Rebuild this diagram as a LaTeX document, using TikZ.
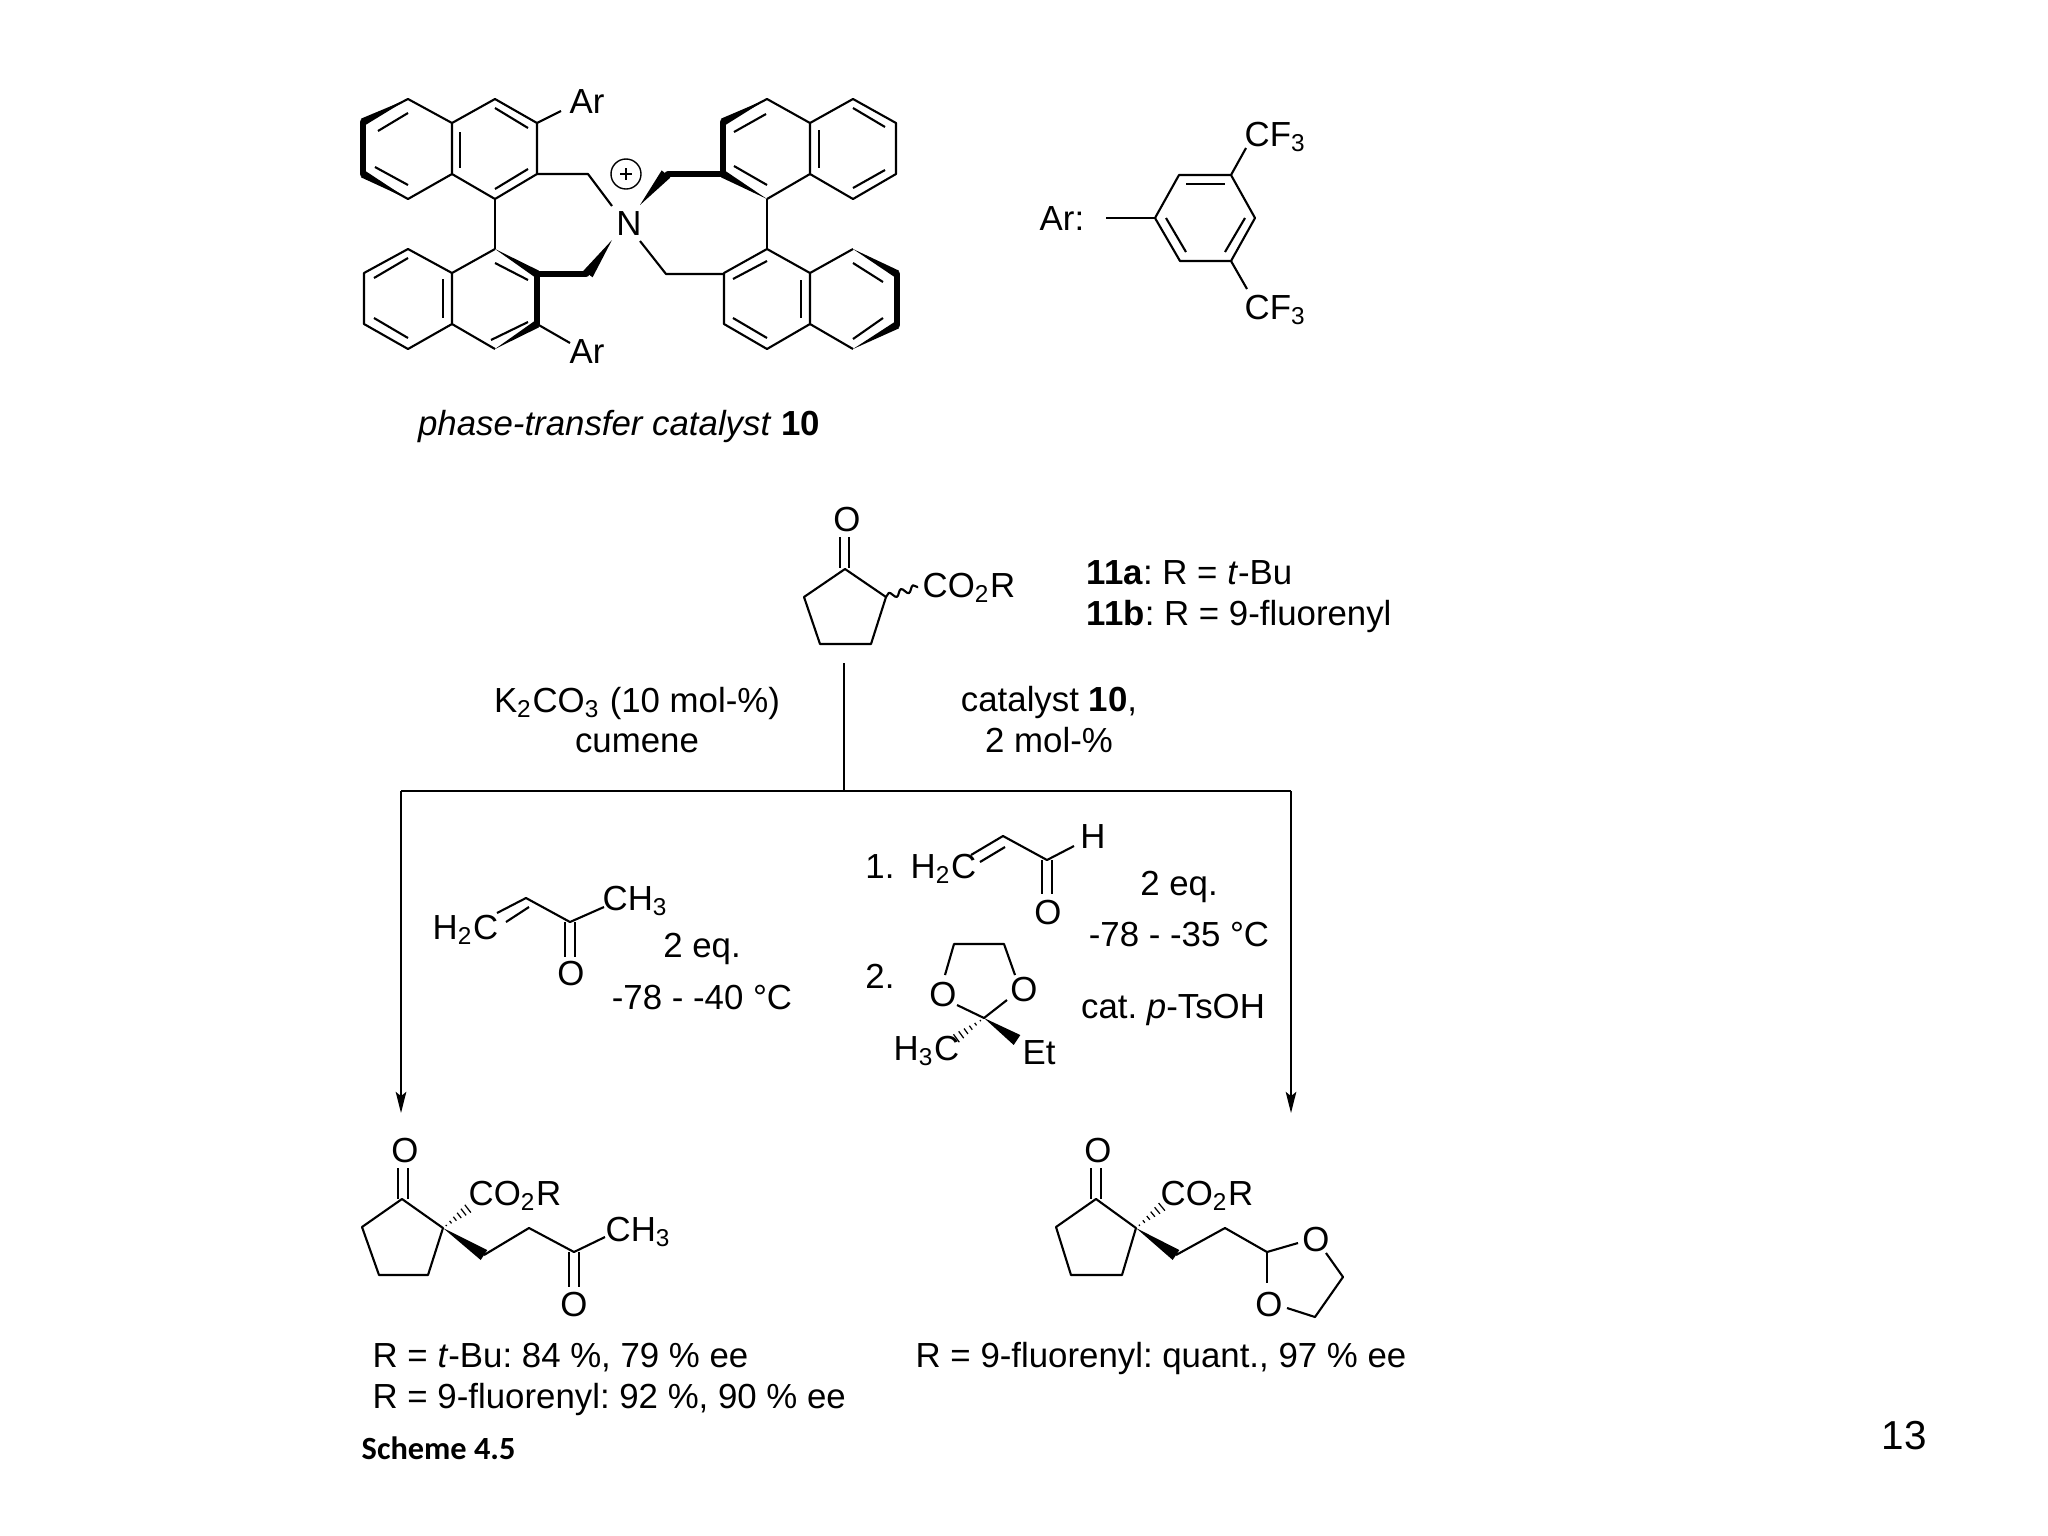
\documentclass[tikz,border=0pt]{standalone}
\usepackage{fontspec}
\setmainfont{Liberation Sans}
\newfontfamily\captionfont{Carlito}
\usetikzlibrary{arrows.meta,calc,decorations.pathmorphing}
\frenchspacing

% filled wedge, narrow end first
\newcommand{\boldwedge}[3][1.1pt]{\fill ($(#3)!#1!90:(#2)$) -- (#2) -- ($(#3)!#1!-90:(#2)$) -- cycle;}
% hashed wedge, narrow end first
\newcommand{\hashwedge}[2]{%
  \foreach \t/\w in {0.12/0.2,0.28/0.45,0.44/0.7,0.60/0.95,0.76/1.2,0.92/1.4}
    \draw[hashline] ($(#1)!\t!(#2)!\w pt!90:(#2)$) -- ($(#1)!\t!(#2)!\w pt!-90:(#2)$);}

\begin{document}
\begin{tikzpicture}[x=0.01cm, y=-0.01cm,
    every node/.style={inner sep=0pt, font=\fontsize{9.9}{12}\selectfont},
    bond/.style={line width=0.6pt, line join=round},
    boldbond/.style={line width=1.9pt, line cap=round},
    hashline/.style={line width=0.35pt},
    rxn/.style={line width=0.6pt},
    rxnarrow/.style={rxn, -{Stealth[length=6pt,width=3pt,inset=1.2pt]}},
    atom/.style={anchor=center},
    group/.style={anchor=base west},
    label/.style={anchor=base}
]
\useasboundingbox (0,0) rectangle (2048,1536);

%%%%%%%%%%%%%%%%%%%%%%%%
% Catalyst 10
%%%%%%%%%%%%%%%%%%%%%%%%

% --- Top left naphthyl ---
\draw[bond] (363,122) -- (408,99) -- (452,123) -- (452,174) -- (408,199) -- (363,174);
\draw[bond] (452,123) -- (495,99) -- (537,123) -- (537,174) -- (495,199) -- (452,174);
\draw[bond] (378,131) -- (408,113);
\draw[bond] (375,167) -- (408,185);
\draw[bond] (460,132) -- (460,168);
\draw[bond] (495,108) -- (528,128);
\draw[bond] (495,189) -- (528,169);
\boldwedge{408,99}{363,122}
\draw[boldbond] (363,122) -- (363,174);
\boldwedge{408,199}{363,174}

% --- Bottom left naphthyl ---
\draw[bond] (495,249) -- (452,273) -- (408,249) -- (364,273) -- (364,324) -- (408,349) -- (452,324) -- (452,273);
\draw[bond] (452,324) -- (495,349);
\draw[bond] (374,278) -- (408,258);
\draw[bond] (374,318) -- (408,338);
\draw[bond] (443,279) -- (443,318);
\draw[bond] (495,263) -- (528,280);
\draw[bond] (491,340) -- (528,322);
\boldwedge{495,249}{537,274}
\draw[boldbond] (537,274) -- (537,324);
\boldwedge{495,349}{537,324}

% --- Top right naphthyl ---
\draw[bond] (723,122) -- (767,99) -- (810,123) -- (810,174) -- (767,199);
\draw[bond] (810,123) -- (853,99) -- (896,123) -- (896,174) -- (853,199) -- (810,174);
\draw[bond] (734,132) -- (766,114);
\draw[bond] (734,166) -- (767,185);
\draw[bond] (819,130) -- (819,168);
\draw[bond] (853,108) -- (885,127);
\draw[bond] (853,188) -- (885,170);
\boldwedge{767,99}{723,122}
\draw[boldbond] (723,122) -- (723,174);
\boldwedge{767,199}{723,174}

% --- Bottom right naphthyl ---
\draw[bond] (767,249) -- (724,273) -- (724,324) -- (767,349) -- (810,324) -- (810,273) -- (767,249);
\draw[bond] (810,273) -- (853,249);
\draw[bond] (810,324) -- (853,349);
\draw[bond] (733,279) -- (767,261);
\draw[bond] (733,318) -- (767,338);
\draw[bond] (801,280) -- (801,318);
\draw[bond] (853,263) -- (883,282);
\draw[bond] (853,339) -- (883,318);
\boldwedge{853,249}{897,274}
\draw[boldbond] (897,274) -- (897,325);
\boldwedge{853,349}{897,325}

% --- Biaryl bonds ---
\draw[bond] (495,199) -- (495,249);
\draw[bond] (767,199) -- (767,249);

% --- Azepinium ---
\node[label] (nplus) at (629,235) {N};
\node[draw, circle, line width=0.4pt, minimum size=0.3cm] (charge) at (626,174) {};
\draw[line width=0.4pt] (620,174) -- (632,174) (626,168) -- (626,180);
\draw[bond] (537,174) -- (588,174) -- (612,206);
\draw[bond] (640,241) -- (666,274) -- (724,274);
\draw[boldbond] (537,274) -- (586,274);
\draw[boldbond] (668,174) -- (723,174);
\boldwedge[1.6pt]{612,240}{588,274}
\boldwedge[1.6pt]{640,205}{666,174}

% --- Ar labels ---
\node[group] (ar1) at (569,113) {Ar};
\node[group] (ar2) at (569,363) {Ar};
\draw[bond] (537,123) -- (561,111);
\draw[bond] (537,324) -- (570,343);

% --- Caption ---
\node[label] (capt) at (619,435) {\textit{phase-transfer catalyst} \textbf{10}};

%%%%%%%%%%%%%%%%%%%%%%%%
% Ar group
%%%%%%%%%%%%%%%%%%%%%%%%

\node[group] (arlabel) at (1039,230) {Ar:};
\node[group] (cf1) at (1244,146) {CF\textsubscript{3}};
\node[group] (cf2) at (1244,319) {CF\textsubscript{3}};
\draw[bond] (1106,218) -- (1155,218);
\draw[bond] (1155,218) -- (1179,175) -- (1231,175) -- (1255,218) -- (1231,261) -- (1180,261) -- cycle;
\draw[bond] (1186,184) -- (1225,184);
\draw[bond] (1166,218) -- (1186,252);
\draw[bond] (1245,218) -- (1225,252);
\draw[bond] (1231,175) -- (1246,148);
\draw[bond] (1231,261) -- (1247,289);

%%%%%%%%%%%%%%%%%%%%%%%%
% Keto ester 11
%%%%%%%%%%%%%%%%%%%%%%%%

\node[atom] (keto) at (847,520) {O};
\node[group] (ester) at (922,597) {CO\textsubscript{2}R};
\draw[bond] (845,569) -- (886,597) -- (871,644) -- (820,644) -- (804,597) -- cycle;
\draw[bond] (840,537) -- (840,568);
\draw[bond] (849,537) -- (849,568);
\draw[bond, decorate, decoration={snake, amplitude=0.9pt, segment length=3.6pt}] (886,597) -- (918,587);
\node[group] (r11a) at (1086,584) {\textbf{11a}: R = \textit{t}-Bu};
\node[group] (r11b) at (1086,625) {\textbf{11b}: R = 9-fluorenyl};

%%%%%%%%%%%%%%%%%%%%%%%%
% Reaction tree
%%%%%%%%%%%%%%%%%%%%%%%%

\coordinate (start) at (844,663);
\coordinate (split) at (844,792);
\coordinate (cornerl) at (401,791);
\coordinate (cornerr) at (1291,791);
\coordinate (tipl) at (401,1113);
\coordinate (tipr) at (1291,1113);
\draw[rxn] (start) -- (split);
\draw[rxn] (cornerl) -- (cornerr);
\draw[rxnarrow] (cornerl) -- (tipl);
\draw[rxnarrow] (cornerr) -- (tipr);

\node[label] (base1) at (637,712) {K\textsubscript{2}CO\textsubscript{3} (10 mol-\%)};
\node[label] (base2) at (637,752) {cumene};
\node[label] (cat1) at (1049,711) {catalyst \textbf{10},};
\node[label] (cat2) at (1049,752) {2 mol-\%};

%%%%%%%%%%%%%%%%%%%%%%%%
% Methyl vinyl ketone
%%%%%%%%%%%%%%%%%%%%%%%%

\node[group] (mvkch2) at (432,939) {H\textsubscript{2}C};
\node[group] (mvkch3) at (602,910) {CH\textsubscript{3}};
\node[atom] (mvko) at (571,974) {O};
\draw[bond] (497,913) -- (526,898) -- (570,922) -- (604,907);
\draw[bond] (506,922) -- (529,907);
\draw[bond] (565,922) -- (565,957);
\draw[bond] (575,922) -- (575,957);
\node[label] (eq1) at (702,957) {2 eq.};
\node[label] (temp1) at (702,1009) {-78 - -40 °C};

%%%%%%%%%%%%%%%%%%%%%%%%
% Acrolein, dioxolane
%%%%%%%%%%%%%%%%%%%%%%%%

\node[label] (step1) at (880,878) {1.};
\node[group] (acrch2) at (910,878) {H\textsubscript{2}C};
\node[atom] (acrh) at (1093,837) {H};
\node[atom] (acro) at (1048,912) {O};
\draw[bond] (971,855) -- (1003,836) -- (1047,860) -- (1074,846);
\draw[bond] (980,862) -- (1005,847);
\draw[bond] (1042,860) -- (1042,894);
\draw[bond] (1052,860) -- (1052,894);
\node[label] (eq2) at (1179,895) {2 eq.};
\node[label] (temp2) at (1179,946) {-78 - -35 °C};

\node[label] (step2) at (880,988) {2.};
\node[atom] (diox1) at (943,994) {O};
\node[atom] (diox2) at (1024,990) {O};
\node[group] (dioxme) at (893,1060) {H\textsubscript{3}C};
\node[group] (dioxet) at (1022,1064) {Et};
\draw[bond] (945,975) -- (954,944) -- (1004,944) -- (1015,975);
\draw[bond] (957,1005) -- (984,1018) -- (1007,1000);
\boldwedge[1.7pt]{984,1018}{1017,1040}
\hashwedge{984,1018}{954,1040}
\node[label] (tsoh) at (1173,1018) {cat. \textit{p}-TsOH};

%%%%%%%%%%%%%%%%%%%%%%%%
% Product left
%%%%%%%%%%%%%%%%%%%%%%%%

\node[atom] (lketo) at (405,1150) {O};
\node[group] (lester) at (468,1205) {CO\textsubscript{2}R};
\node[group] (lme) at (605,1241) {CH\textsubscript{3}};
\node[atom] (lo) at (574,1304) {O};
\draw[bond] (402,1199) -- (443,1228) -- (428,1275) -- (379,1275) -- (362,1227) -- cycle;
\draw[bond] (398,1168) -- (398,1199);
\draw[bond] (408,1168) -- (408,1199);
\hashwedge{443,1228}{470,1207}
\boldwedge[1.7pt]{443,1228}{484,1255}
\draw[bond] (484,1255) -- (529,1228) -- (574,1252) -- (605,1237);
\draw[bond] (569,1252) -- (569,1287);
\draw[bond] (579,1252) -- (579,1287);
\node[group] (lres1) at (372,1367) {R = \textit{t}-Bu: 84 \%, 79 \% ee};
\node[group] (lres2) at (372,1408) {R = 9-fluorenyl: 92 \%, 90 \% ee};

%%%%%%%%%%%%%%%%%%%%%%%%
% Product right
%%%%%%%%%%%%%%%%%%%%%%%%

\node[atom] (rketo) at (1098,1150) {O};
\node[group] (rester) at (1160,1205) {CO\textsubscript{2}R};
\node[atom] (ro1) at (1316,1239) {O};
\node[atom] (ro2) at (1269,1304) {O};
\draw[bond] (1096,1199) -- (1136,1228) -- (1122,1275) -- (1071,1275) -- (1056,1227) -- cycle;
\draw[bond] (1091,1168) -- (1091,1199);
\draw[bond] (1101,1168) -- (1101,1199);
\hashwedge{1136,1228}{1164,1205}
\boldwedge[1.7pt]{1136,1228}{1176,1255}
\draw[bond] (1176,1255) -- (1225,1228) -- (1267,1252) -- (1298,1243);
\draw[bond] (1267,1252) -- (1267,1283);
\draw[bond] (1326,1253) -- (1343,1277) -- (1315,1317) -- (1287,1308);
\node[group] (rres) at (915,1367) {R = 9-fluorenyl: quant., 97 \% ee};

%%%%%%%%%%%%%%%%%%%%%%%%
% Footer
%%%%%%%%%%%%%%%%%%%%%%%%

\node[group, font=\captionfont\bfseries\fontsize{9.2}{11}\selectfont] (scheme) at (361,1459) {Scheme 4.5};
\node[label, font=\fontsize{11.5}{14}\selectfont] (pagenum) at (1904,1449) {13};

\end{tikzpicture}
\end{document}
